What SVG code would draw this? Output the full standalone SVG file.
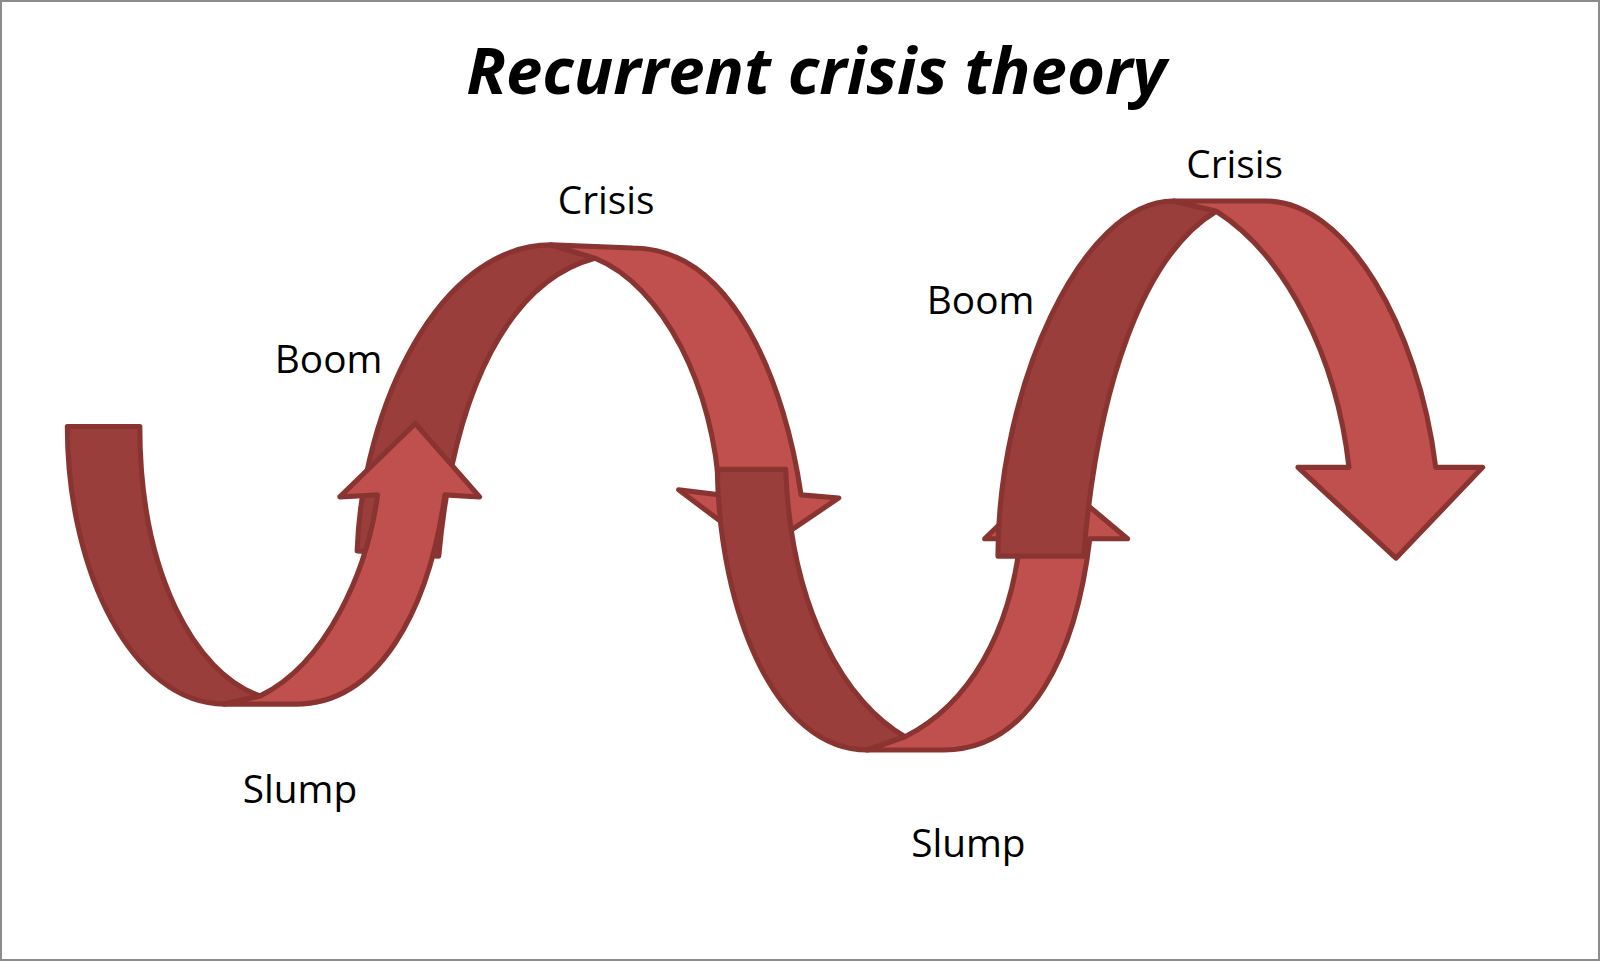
<svg xmlns="http://www.w3.org/2000/svg" width="1600" height="961" viewBox="0 0 1600 961">
<style>
.d{fill:#9A3E3C;stroke:#8A3432;stroke-width:5;stroke-linejoin:round}
.l{fill:#C0504D;stroke:#8A3432;stroke-width:5;stroke-linejoin:round}
.t{font-family:"Open Sans","Liberation Sans",sans-serif;font-size:38px;fill:#000}
</style>
<rect x="1" y="1" width="1598" height="959" fill="#fff" stroke="#8c8c8c" stroke-width="2"/>
<g transform="scale(1.0204)">
<text x="800" y="92" text-anchor="middle" font-family="Open Sans, Liberation Sans, sans-serif" font-size="64" font-weight="bold" font-style="italic">Recurrent crisis theory</text>
<g id="arrow2">
<path class="d" d="M350,540 C355,400 430,240 540,240 L583,253 C500,275 445,380 430,545 Z"/>
<path class="l" d="M583,253 C650,280 700,380 705,485 L665,480 L745,540 L822,488 L785,485 C770,380 720,243 620,243 L540,240 Z"/>
</g>
<g id="arrow1">
<path class="d" d="M66,418 L137,418 C137,560 190,660 255,682 L220,690 C130,690 66,560 66,418 Z"/>
<path class="l" d="M255,682 C320,650 360,560 370,485 L333,487 L407,415 L470,487 L436,485 C420,600 370,690 290,690 L220,690 Z"/>
</g>
<g id="arrow3">
<path class="d" d="M703,460 L770,460 C775,600 830,690 887,722 L850,735 C760,735 705,600 703,460 Z"/>
<path class="l" d="M887,722 C950,690 990,620 1000,528 L965,528 L1030,465 L1105,528 L1068,528 C1055,640 1010,735 925,735 L850,735 Z"/>
</g>
<g id="arrow4">
<path class="d" d="M978,545 C978,380 1060,197 1150,197 L1192,207 C1120,250 1075,380 1062,545 Z"/>
<path class="l" d="M1192,207 C1260,250 1310,350 1322,458 L1272,458 L1368,547 L1453,458 L1407,458 C1390,320 1320,197 1240,197 L1150,197 Z"/>
</g>
<g id="labels">
<text class="t" x="594" y="210" text-anchor="middle">Crisis</text>
<text class="t" x="1210" y="174" text-anchor="middle">Crisis</text>
<text class="t" x="322" y="366" text-anchor="middle">Boom</text>
<text class="t" x="961" y="308" text-anchor="middle">Boom</text>
<text class="t" x="294" y="787" text-anchor="middle">Slump</text>
<text class="t" x="949" y="840" text-anchor="middle">Slump</text>
</g>
</g>
</svg>
